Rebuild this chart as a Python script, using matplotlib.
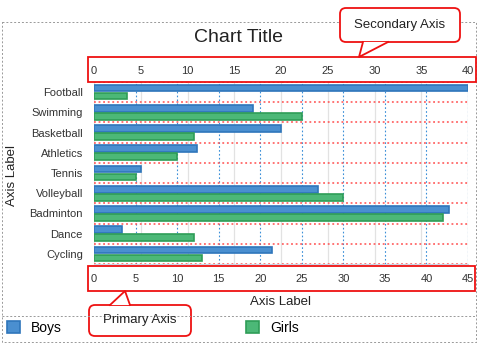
import matplotlib.pyplot as plt
import numpy as np
from matplotlib.patches import FancyBboxPatch, Polygon, Rectangle, Patch
from matplotlib.lines import Line2D
from matplotlib.transforms import blended_transform_factory

plt.rcParams['font.family'] = ['Liberation Sans', 'DejaVu Sans']

# 데이터
sports = ['Football', 'Swimming', 'Basketball', 'Athletics', 'Tennis',
          'Volleyball', 'Badminton', 'Dance', 'Cycling']
boys = [40, 17, 20, 11, 5, 24, 38, 3, 19]     # 보조축 (위쪽, 0-40)
girls = [4, 25, 12, 10, 5, 30, 42, 12, 13]    # 주축 (아래쪽, 0-45)
primary_ticks = list(range(0, 50, 5))
secondary_ticks = list(range(0, 45, 5))

W, H = 480, 345
fig = plt.figure(figsize=(W / 100, H / 100), dpi=100)

def px(x0, y0, x1, y1):
    return [x0 / W, 1 - y1 / H, (x1 - x0) / W, (y1 - y0) / H]

ax = fig.add_axes(px(94, 82, 468, 264))
ax2 = ax.twiny()
# 보조축을 아래에 그리고 주축(여자) 막대를 위에
ax.set_zorder(ax2.get_zorder() + 1)
ax.patch.set_visible(False)

y = np.arange(len(sports))
h = 0.33

blue_face, blue_edge = '#4a8fd0', '#2f76bb'
green_face, green_edge = '#4cb877', '#2f9d57'

ax.barh(y + 0.2, girls, height=h, color=green_face, edgecolor=green_edge, linewidth=1.2, zorder=3)
ax2.barh(y - 0.2, boys, height=h, color=blue_face, edgecolor=blue_edge, linewidth=1.2, zorder=3)

ax.set_xlim(0, 45)
ax2.set_xlim(0, 40)
ax.set_ylim(len(sports) - 0.5, -0.5)
ax2.set_ylim(len(sports) - 0.5, -0.5)

ax.set_xticks(primary_ticks)
ax2.set_xticks(secondary_ticks)
ax.set_yticks(y)
ax.set_yticklabels(sports)

ax.tick_params(axis='x', length=0, pad=7, labelsize=8, colors='#333333')
ax.tick_params(axis='y', length=0, pad=8, labelsize=8, colors='#333333')
ax2.tick_params(axis='x', length=0, pad=4, labelsize=8, colors='#333333')

for a in (ax, ax2):
    for s in a.spines.values():
        s.set_visible(False)
ax.spines['bottom'].set_visible(True)
ax.spines['bottom'].set_color('#c8d8e8')

# 격자선 (모두 보조축 위에, 막대 아래)
for t in secondary_ticks:
    ax2.axvline(t, color='#e2e2e2', lw=0.9, zorder=0)
prim_tr = blended_transform_factory(ax.transData, ax2.transAxes)
for t in primary_ticks[1:]:
    ax2.add_line(Line2D([t, t], [0, 1], transform=prim_tr, color='#3a8fd8',
                        lw=0.8, ls=(0, (1.5, 2)), zorder=1))
for k in range(len(sports) + 1):
    ax2.axhline(k - 0.5, color='#ff4d4d', lw=1.1, ls=(0, (1.2, 1.8)), zorder=2)

# 제목, 축 이름
fig.text(238 / W, 1 - 38 / H, 'Chart Title', ha='center', va='center', fontsize=14, color='#222222')
fig.text(280 / W, 1 - 302 / H, 'Axis Label', ha='center', va='center', fontsize=9.5, color='#222222')
fig.text(12 / W, 1 - 176 / H, 'Axis Label', ha='center', va='center', rotation=90, fontsize=9.5, color='#222222')

# 범례
handles = [Patch(facecolor=blue_face, edgecolor=blue_edge, lw=1.2),
           Patch(facecolor=green_face, edgecolor=green_edge, lw=1.2)]
fig.legend(handles, ['Boys', 'Girls'], ncol=2, loc='center left',
           bbox_to_anchor=(7 / W, 1 - 328 / H), frameon=False, fontsize=10,
           handlelength=0.95, handleheight=0.95, handletextpad=0.75,
           columnspacing=13.3, borderpad=0, borderaxespad=0)

# 주석 레이어 (픽셀 좌표)
ov = fig.add_axes([0, 0, 1, 1], zorder=10)
ov.set_xlim(0, W)
ov.set_ylim(H, 0)
ov.axis('off')
ov.patch.set_alpha(0)

ov.add_patch(Rectangle((2, 22), 474, 320, fill=False, ec='#999999', lw=0.7, ls=(0, (2, 2))))
ov.add_line(Line2D([2, 476], [316, 316], color='#999999', lw=0.7, ls=(0, (2, 2))))

red = '#ee1111'
ov.add_patch(Rectangle((88, 57), 388, 25, fill=False, ec=red, lw=1.3))
ov.add_patch(Rectangle((88, 266), 387, 25, fill=False, ec=red, lw=1.3))

def callout(x0, y0, x1, y1, base, tip, text, base_y):
    ov.add_patch(FancyBboxPatch((x0, y0), x1 - x0, y1 - y0,
                                boxstyle='round,pad=0,rounding_size=6',
                                fc='white', ec=red, lw=1.3))
    ov.add_patch(Polygon([(base[0], base_y), (base[1], base_y), tip],
                         closed=True, fc='white', ec='none'))
    ov.add_line(Line2D([base[0], tip[0], base[1]], [base_y, tip[1], base_y], color=red, lw=1.3))
    ov.text((x0 + x1) / 2, (y0 + y1) / 2, text, ha='center', va='center', fontsize=9.5, color='#222222')

callout(340, 8, 460, 42, (363, 388), (359, 57), 'Secondary Axis', 42)
callout(89, 305, 191, 336, (110, 130), (125, 291), 'Primary Axis', 305)

fig.savefig('out.png', dpi=100)
